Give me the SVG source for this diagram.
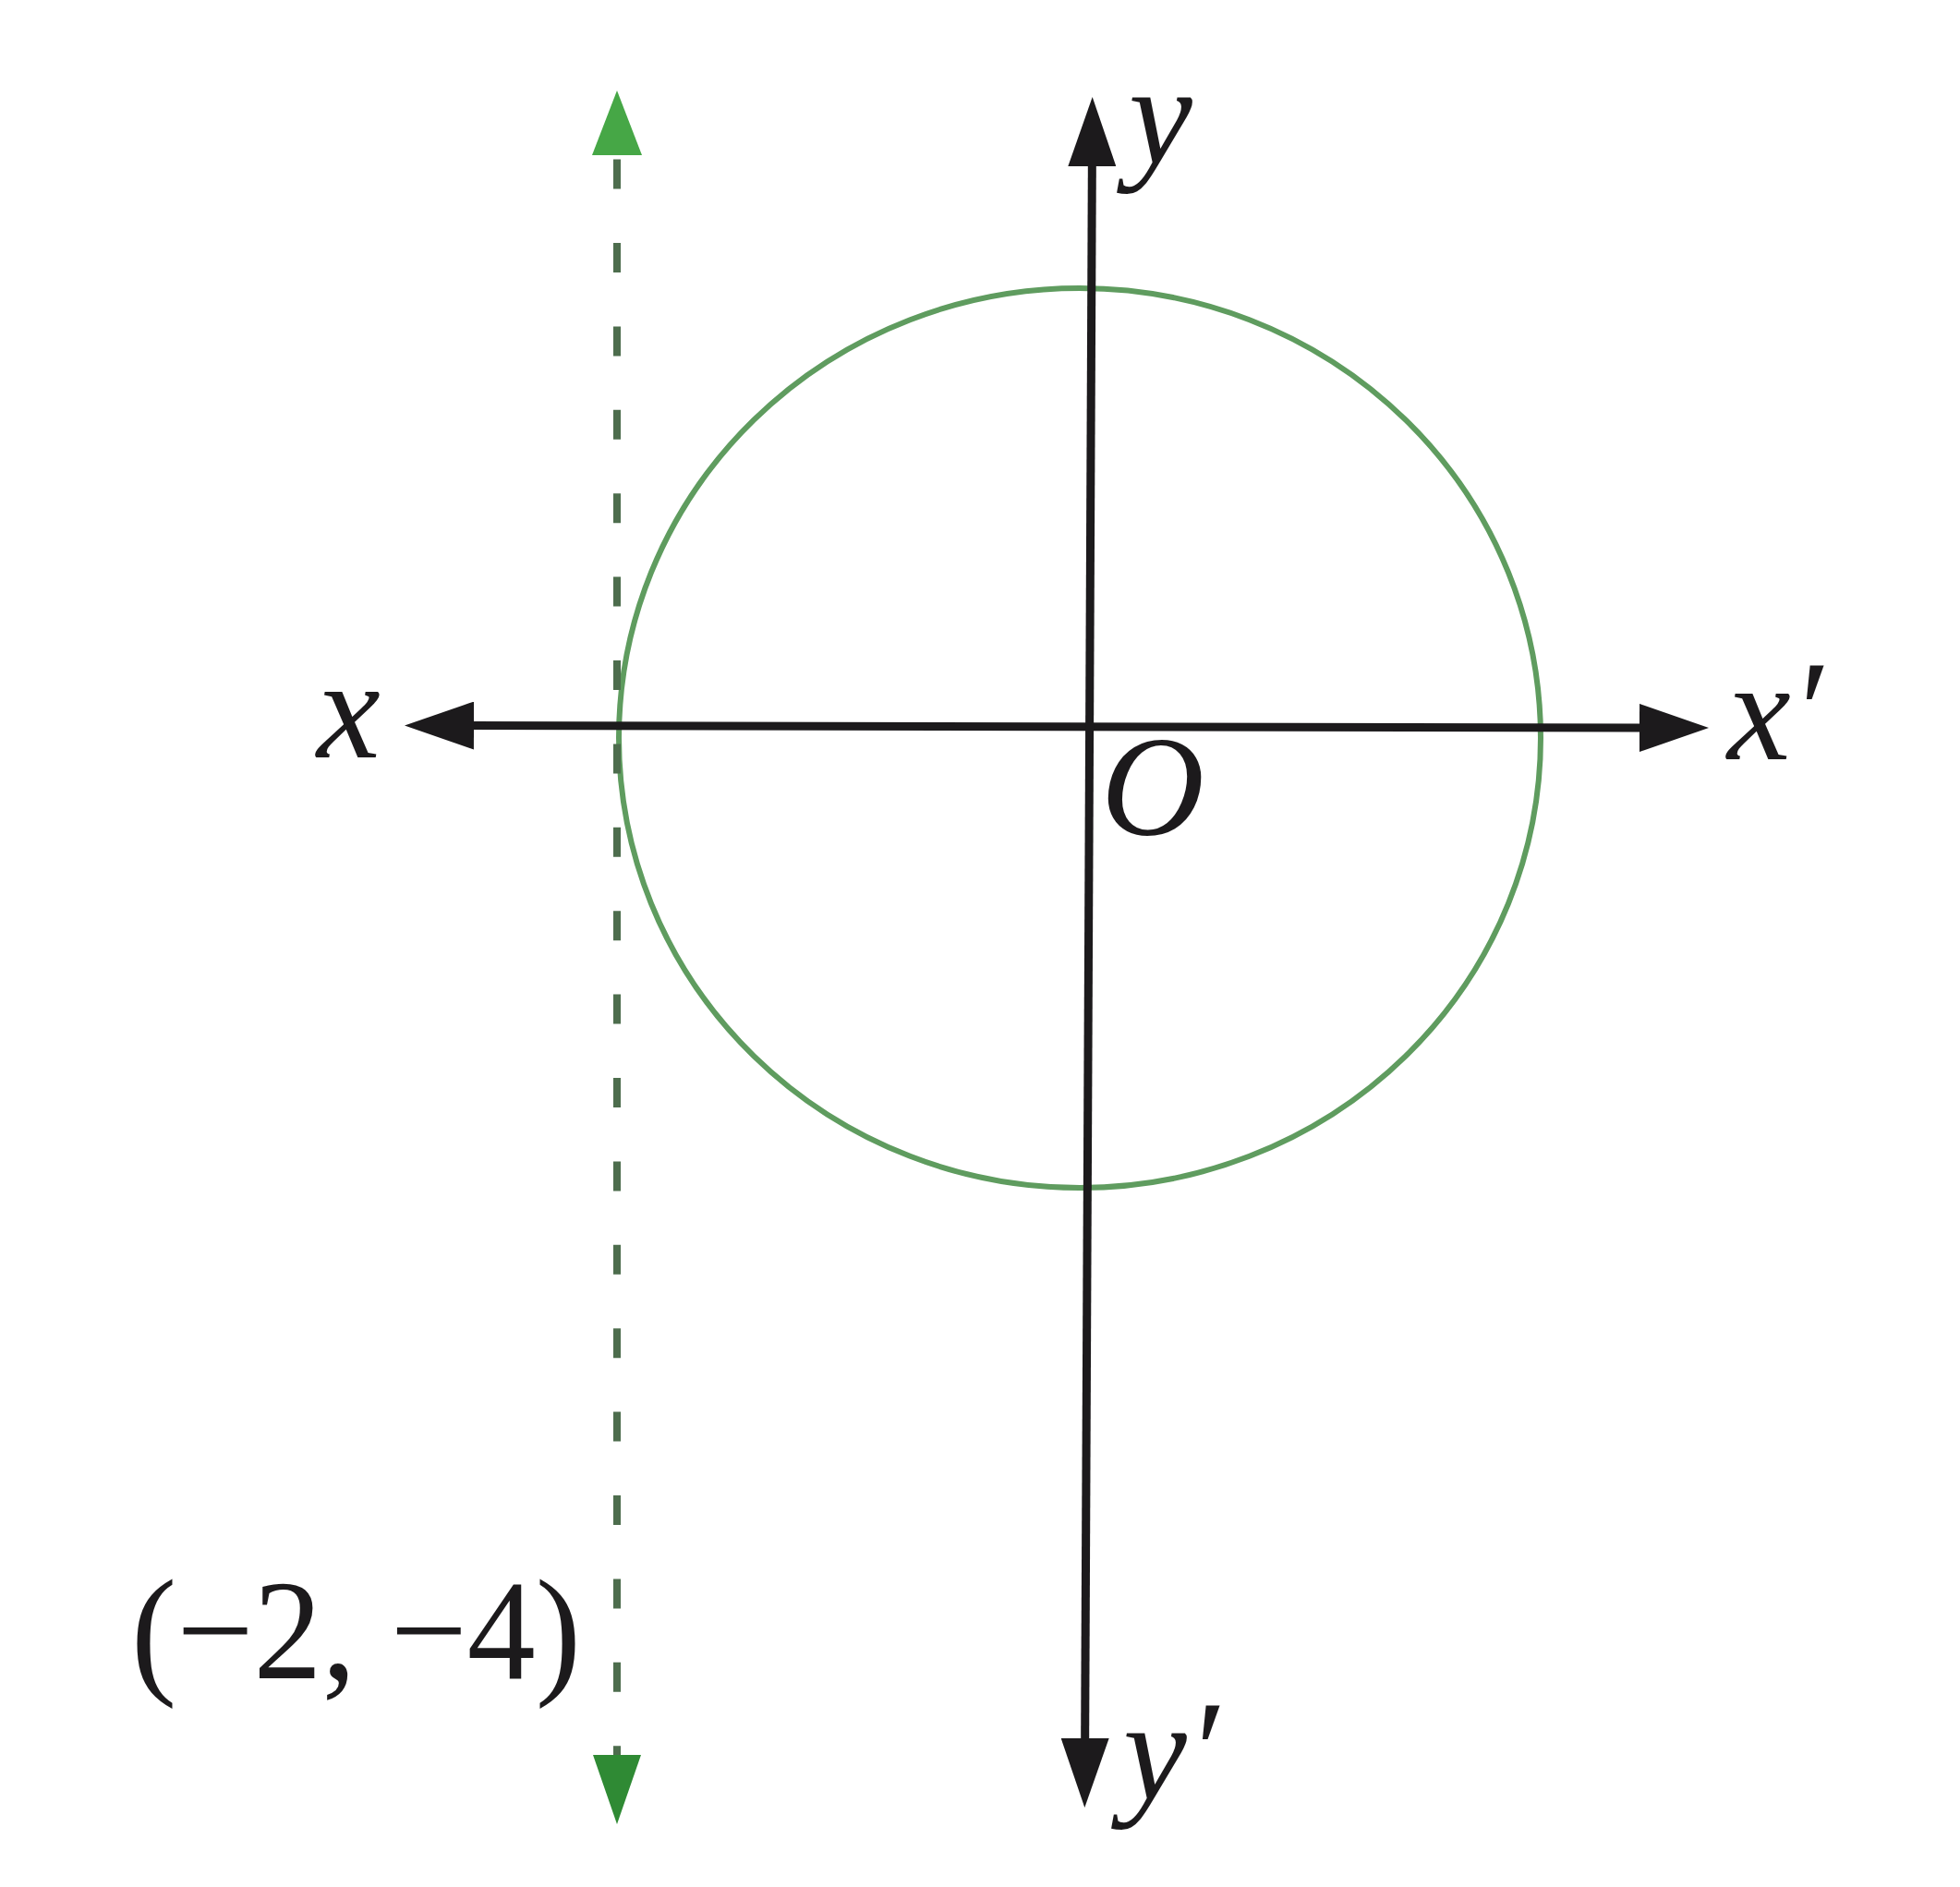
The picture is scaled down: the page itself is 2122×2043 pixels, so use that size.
<svg xmlns="http://www.w3.org/2000/svg" width="2122" height="2043" viewBox="0 0 2122 2043">
  <style>
    .axis { stroke: #1c1a1c; stroke-width: 9; fill: none; stroke-linecap: butt; }
    .circ { stroke: #5f9c5f; stroke-width: 6; fill: none; }
    .dash { stroke: #4d6d4d; stroke-width: 8; fill: none; stroke-dasharray: 32 58.4; }
    text { font-family: 'Liberation Serif', Tinos, 'Times New Roman', serif; font-size: 155px; fill: #1c1a1c; }
    .lbl { font-style: italic; }
  </style>
  <defs>
    <marker id="ah" viewBox="0 0 75 52" refX="35" refY="26" markerWidth="75" markerHeight="52" markerUnits="userSpaceOnUse" orient="auto-start-reverse">
      <path d="M0,0 L75,26 L0,52 Z" fill="#1c1a1c"/>
    </marker>
  </defs>
  <rect x="0" y="0" width="2122" height="2043" fill="#ffffff"/>

  <g id="circle">
    <ellipse class="circ" cx="1169" cy="799" rx="499" ry="487"/>
  </g>

  <g id="connectors">
    <line id="x-axis" class="axis" x1="478" y1="785.5" x2="1810" y2="788" marker-start="url(#ah)" marker-end="url(#ah)"/>
    <line id="y-axis" class="axis" x1="1182.5" y1="145" x2="1174.5" y2="1917" marker-start="url(#ah)" marker-end="url(#ah)"/>
    <g id="dashed-line">
      <line class="dash" x1="668" y1="172.6" x2="668" y2="1905"/>
      <path d="M668,98 L695,168 L641,168 Z" fill="#46a746"/>
      <path d="M668,1975 L694,1900 L642,1900 Z" fill="#2f8a34"/>
    </g>
  </g>

  <g id="label-y"><text class="lbl" font-family="Liberation Serif" x="1222" y="177">y</text></g>
  <g id="label-x"><text class="lbl" font-family="Liberation Serif" x="343" y="820">x</text></g>
  <g id="label-x-prime"><text class="lbl" font-family="Liberation Serif" x="1870" y="822">x′</text></g>
  <g id="label-y-prime"><text class="lbl" font-family="Liberation Serif" x="1216" y="1948">y′</text></g>
  <g id="label-O"><text class="lbl" font-family="Liberation Serif" x="1192" y="903">O</text></g>
  <g id="label-point"><text font-family="Liberation Serif" x="142" y="1817" textLength="487" lengthAdjust="spacingAndGlyphs">(−2, −4)</text></g>
</svg>
